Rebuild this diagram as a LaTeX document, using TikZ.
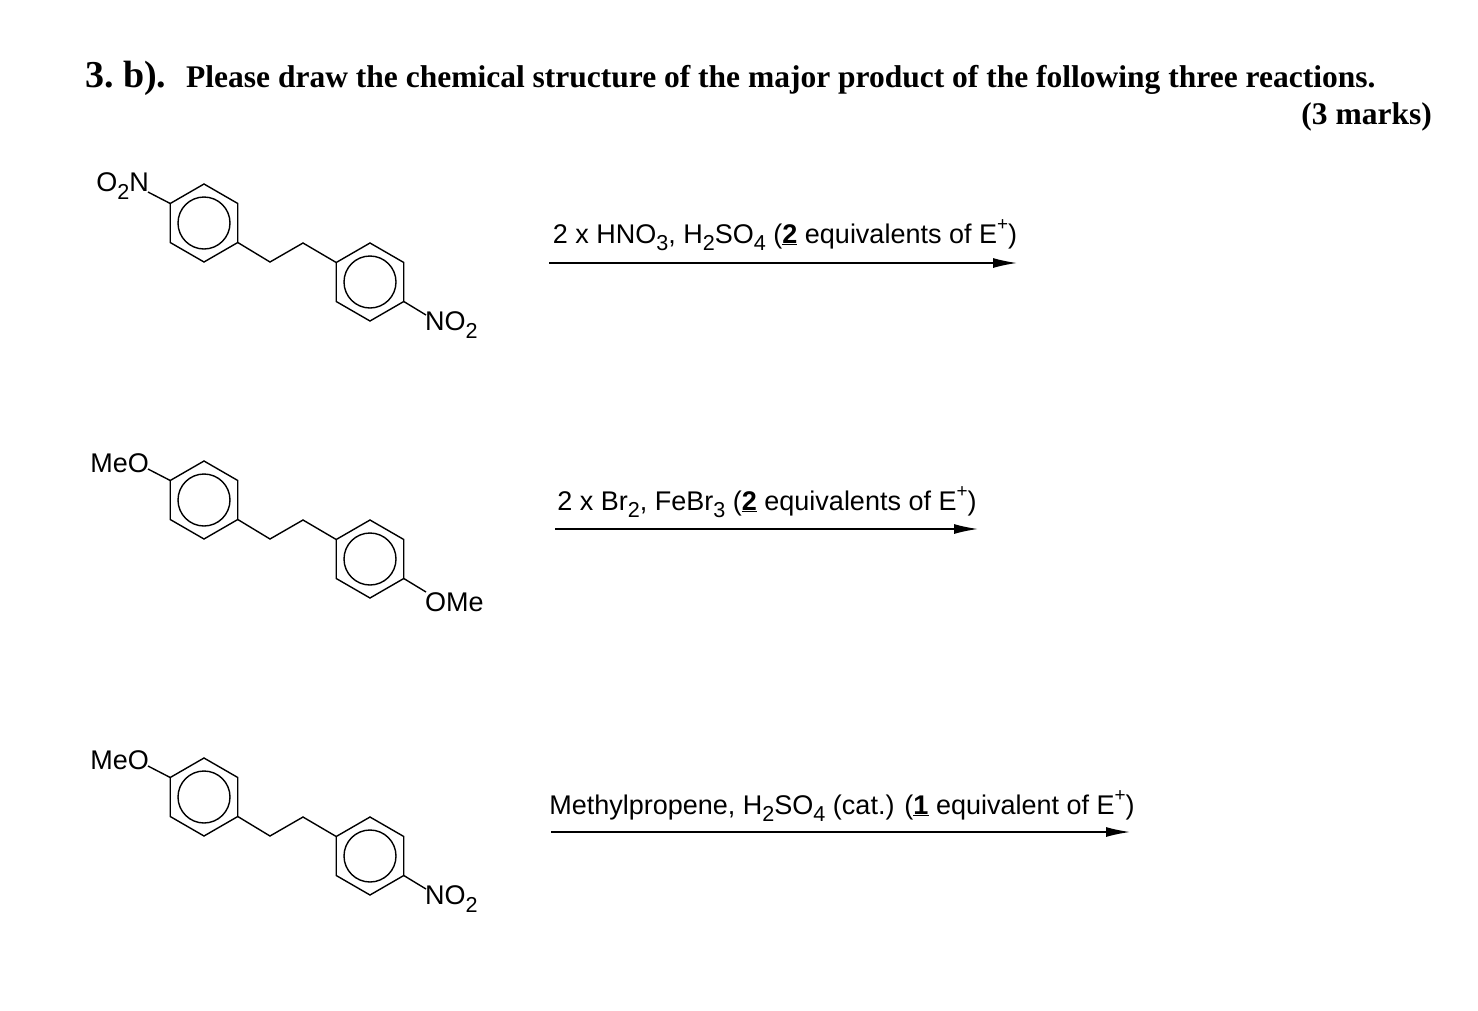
\documentclass[tikz,border=0pt]{standalone}
\usepackage{fontspec}
\setmainfont{Liberation Serif}
\setsansfont{Liberation Sans}
\usetikzlibrary{arrows.meta,calc}
\newcommand{\sub}[1]{\raisebox{-0.28em}{\scalebox{0.8}{#1}}}
\newcommand{\sups}[1]{\raisebox{0.45em}{\scalebox{0.7}{#1}}}
\newcommand{\mymol}[4]{%
  \coordinate (#1c1) at (204,223+#2);
  \coordinate (#1c2) at (370,282+#2);
  \draw[bond] ($(#1c1)+(30:39)$) -- ($(#1c1)+(90:39)$) -- ($(#1c1)+(150:39)$) -- ($(#1c1)+(210:39)$) -- ($(#1c1)+(270:39)$) -- ($(#1c1)+(330:39)$) -- cycle;
  \draw[bond] (#1c1) circle (26);
  \draw[bond] ($(#1c2)+(30:39)$) -- ($(#1c2)+(90:39)$) -- ($(#1c2)+(150:39)$) -- ($(#1c2)+(210:39)$) -- ($(#1c2)+(270:39)$) -- ($(#1c2)+(330:39)$) -- cycle;
  \draw[bond] (#1c2) circle (26);
  \coordinate (#1a) at ($(#1c1)+(30:39)$);
  \coordinate (#1b) at ($(#1c2)+(210:39)$);
  \coordinate (#1m1) at (270,262+#2);
  \coordinate (#1m2) at (303,243+#2);
  \draw[bond] (#1a) -- (#1m1) -- (#1m2) -- (#1b);
  \node[lab,anchor=east] (#1L) at (150,186+#2) {#3};
  \node[lab,anchor=west] (#1R) at (424,325+#2) {#4};
  \draw[bond] ($(#1c1)+(210:39)$) -- ($(#1L.east)+(-2,6)$);
  \draw[bond] ($(#1c2)+(30:39)$) -- ($(#1R.west)+(2,-10)$);
}
\begin{document}
\begin{tikzpicture}[x=1pt,y=-1pt,
  bond/.style={line width=1.4pt},
  lab/.style={font=\sffamily\fontsize{27}{30}\selectfont, inner sep=1pt},
  rxn/.style={font=\sffamily\fontsize{27}{30}\selectfont, inner sep=0pt},
  arr/.style={line width=1.4pt,-{Latex[length=24pt,width=10pt]}}]
\useasboundingbox (0,0) rectangle (1478,1010);
\node[anchor=base west,inner sep=0,font=\bfseries\fontsize{38}{40}\selectfont] (t1) at (85,87) {3.~b).};
\node[anchor=base west,inner sep=0,font=\bfseries\fontsize{31.5}{34}\selectfont] (t2) at (186,87) {Please draw the chemical structure of the major product of the following three reactions.};
\node[anchor=base east,inner sep=0,font=\bfseries\fontsize{31.5}{34}\selectfont] (t3) at (1432,124) {(3 marks)};

\mymol{A}{0}{O\sub{2}N}{NO\sub{2}}
\mymol{B}{277}{MeO}{OMe}
\mymol{C}{574}{MeO}{NO\sub{2}}

\coordinate (a1) at (549,263); \coordinate (a2) at (1017,263);
\draw[arr] (a1) -- (a2);
\node[rxn,anchor=base] (r1) at (785,243) {2 x HNO\sub{3}, H\sub{2}SO\sub{4} (\underline{\textbf{2}} equivalents of E\sups{+})};
\coordinate (b1) at (555,529); \coordinate (b2) at (978,529);
\draw[arr] (b1) -- (b2);
\node[rxn,anchor=base] (r2) at (767,510) {2 x Br\sub{2}, FeBr\sub{3} (\underline{\textbf{2}} equivalents of E\sups{+})};
\coordinate (c1) at (551,832); \coordinate (c2) at (1130,832);
\draw[arr] (c1) -- (c2);
\node[rxn,anchor=base] (r3) at (842,814) {Methylpropene, H\sub{2}SO\sub{4} (cat.) (\underline{\textbf{1}} equivalent of E\sups{+})};
\end{tikzpicture}
\end{document}
